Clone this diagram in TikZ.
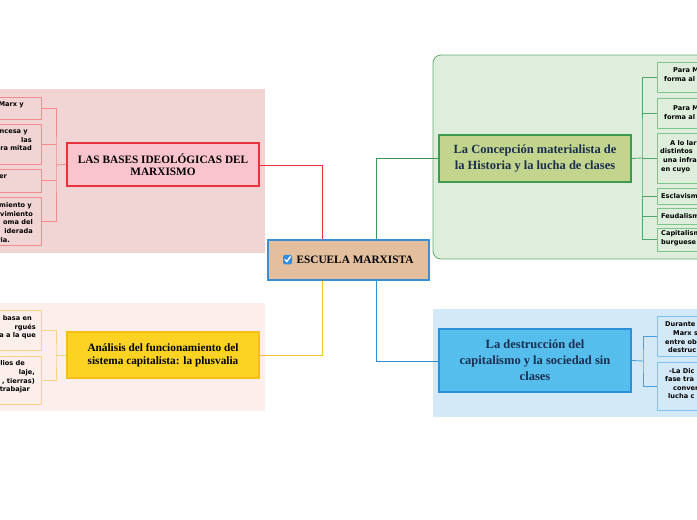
\documentclass[tikz,border=0pt]{standalone}
\usepackage{fontspec}
\setmainfont{Liberation Serif}
\newfontfamily\subf{DejaVu Sans}
\definecolor{cfill}{HTML}{E3BF9E}
\definecolor{cborder}{HTML}{3C8FD4}
\definecolor{rreg}{HTML}{F1D4D4}
\definecolor{rfill}{HTML}{F9C4CE}
\definecolor{rborder}{HTML}{E8323C}
\definecolor{rsub}{HTML}{F08C8C}
\definecolor{yreg}{HTML}{FCEFEB}
\definecolor{yfill}{HTML}{FCD323}
\definecolor{yborder}{HTML}{F8BD16}
\definecolor{ysub}{HTML}{F9D482}
\definecolor{ycon}{HTML}{F8C030}
\definecolor{greg}{HTML}{DEEDDC}
\definecolor{gregb}{HTML}{5FB070}
\definecolor{gfill}{HTML}{C3D48C}
\definecolor{gborder}{HTML}{3E9A4C}
\definecolor{gsub}{HTML}{7CC68C}
\definecolor{gcon}{HTML}{3A9A5A}
\definecolor{breg}{HTML}{D3E9F7}
\definecolor{bfill}{HTML}{56BEEC}
\definecolor{bborder}{HTML}{2D90D6}
\definecolor{bsub}{HTML}{7CC4EE}
\definecolor{navy}{HTML}{1A2E50}
\definecolor{checkblue}{HTML}{2F8FE0}
\tikzset{
  mainbox/.style={draw, line width=2pt, inner sep=0pt, align=center, font=\bfseries\fontsize{11.3}{12.5}\selectfont},
  subbox/.style={draw, line width=0.8pt},
  subtext/.style={inner sep=0pt, font=\subf\bfseries\fontsize{6.6}{8.6}\selectfont},
  conn/.style={line width=1pt},
}
\begin{document}
\begin{tikzpicture}[x=1pt,y=-1pt]
\useasboundingbox (0,0) rectangle (697,520);
\clip (0,0) rectangle (697,520);
\fill[white] (0,0) rectangle (697,520);
% regions
\fill[rreg] (-10,89) rectangle (265,253);
\fill[yreg] (-10,303) rectangle (265,411);
\draw[gregb, fill=greg, line width=0.8pt, rounded corners=8pt] (433,55) rectangle (720,259);
\fill[breg] (433,309) rectangle (720,417);

% main connectors (drawn below nodes)
\coordinate (rt) at (322,240);
\coordinate (gt) at (376,240);
\coordinate (yb) at (322,280);
\coordinate (bb) at (376,280);
\coordinate (rend) at (259,165);
\coordinate (yend) at (259,355);
\coordinate (gend) at (439,158);
\coordinate (bend) at (439,361);
\draw[conn, rborder] (rt) |- (rend);
\draw[conn, ycon] (yb) |- (yend);
\draw[conn, gcon] (gt) |- (gend);
\draw[conn, bborder] (bb) |- (bend);

% central node
\node[mainbox, draw=cborder, fill=cfill, minimum width=161pt, minimum height=40pt, font=\bfseries\fontsize{11.3}{12}\selectfont] (c) at (348.5,260) {\hspace*{13pt}ESCUELA MARXISTA};
\node[fill=checkblue, rounded corners=1.5pt, minimum width=9pt, minimum height=9.5pt, inner sep=0pt] (icon) at (287.5,259.5) {};
\draw[white, line width=1.4pt, line cap=round, line join=round] ([shift={(-2.5pt,0pt)}]icon.center) -- ([shift={(-0.6pt,-2.2pt)}]icon.center) -- ([shift={(2.8pt,2.8pt)}]icon.center);

% main nodes
\node[mainbox, draw=rborder, fill=rfill, minimum width=192pt, minimum height=43pt] (r) at (163,164.5) {LAS BASES IDEOLÓGICAS DEL\\MARXISMO};
\node[mainbox, draw=yborder, fill=yfill, minimum width=192pt, minimum height=46pt] (y) at (163,355) {Análisis del funcionamiento del\\sistema capitalista: la plusvalia};
\node[mainbox, draw=gborder, fill=gfill, minimum width=192pt, minimum height=47pt, text=navy, font=\bfseries\fontsize{12.5}{16}\selectfont] (g) at (535,158.5) {La Concepción materialista de\\la Historia y la lucha de clases};
\node[mainbox, draw=bborder, fill=bfill, minimum width=192pt, minimum height=63pt, text=navy, font=\bfseries\fontsize{12.5}{16}\selectfont] (b) at (535,360.5) {La destrucción del\\capitalismo y la sociedad sin\\clases};

% left top sub boxes
\begin{scope}[rsub]
\node[subbox, fill=rreg, minimum width=60pt, minimum height=22pt, inner sep=0pt] (r1) at (11,108) {};
\node[subbox, fill=rreg, minimum width=60pt, minimum height=40pt, inner sep=0pt] (r2) at (11,144) {};
\node[subbox, fill=rreg, minimum width=60pt, minimum height=23pt, inner sep=0pt] (r3) at (11,180.5) {};
\node[subbox, fill=rreg, minimum width=60pt, minimum height=48pt, inner sep=0pt] (r4) at (11,221) {};
\coordinate (rk) at (56,165);
\draw[line width=0.8pt] (r.west) -- (rk);
\draw[line width=0.8pt] (r1.east) -| (rk) |- (r4.east);
\draw[line width=0.8pt] (r2.east) -- (r2.east -| rk);
\draw[line width=0.8pt] (r3.east) -- (r3.east -| rk);
\end{scope}
\node[subtext, anchor=east] (r1t) at (24,105) {Marx y};
\node[subtext, anchor=east, align=right] (r2t) at (32,140.5) {ncesa y\hspace*{4pt}\\las\hspace*{14pt}\\ra mitad};
\node[subtext, anchor=east] (r3t) at (7,177) {er};
\node[subtext, anchor=east, align=right] (r4t) at (33,222.5) {miento y\hspace*{1pt}\\vimiento\\oma del\hspace*{3pt}\\iderada\hspace*{4pt}\\ria.\hspace*{23pt}};

% left bottom sub boxes
\begin{scope}[ysub]
\node[subbox, fill=yreg, minimum width=60pt, minimum height=40pt, inner sep=0pt] (y1) at (11,330) {};
\node[subbox, fill=yreg, minimum width=60pt, minimum height=48pt, inner sep=0pt] (y2) at (11,380) {};
\coordinate (yk) at (56,355);
\draw[line width=0.8pt] (y.west) -- (yk);
\draw[line width=0.8pt] (y1.east) -| (yk) |- (y2.east);
\end{scope}
\node[subtext, anchor=east, align=right] (y1t) at (36,327.5) {basa en\hspace*{4pt}\\rgués\hspace*{14pt}\\a a la que};
\node[subtext, anchor=east, align=right] (y2t) at (35,377) {lios de\hspace*{10pt}\\laje,\hspace*{21pt}\\, tierras)\\trabajar\hspace*{5pt}};

% right top sub boxes
\begin{scope}[gsub]
\node[subbox, fill=greg, minimum width=60pt, minimum height=30pt, inner sep=0pt] (g1) at (687,77) {};
\node[subbox, fill=greg, minimum width=60pt, minimum height=30pt, inner sep=0pt] (g2) at (687,113) {};
\node[subbox, fill=greg, minimum width=60pt, minimum height=50pt, inner sep=0pt] (g3) at (687,158) {};
\node[subbox, fill=greg, minimum width=60pt, minimum height=16pt, inner sep=0pt] (g4) at (687,196) {};
\node[subbox, fill=greg, minimum width=60pt, minimum height=16pt, inner sep=0pt] (g5) at (687,216) {};
\node[subbox, fill=greg, minimum width=60pt, minimum height=23pt, inner sep=0pt] (g6) at (687,239.5) {};
\end{scope}
\begin{scope}[gcon!70!gsub]
\coordinate (gk) at (642,158);
\draw[line width=0.8pt] (g.east) -- (gk);
\draw[line width=0.8pt] (g1.west) -| (gk) |- (g6.west);
\draw[line width=0.8pt] (g2.west) -- (g2.west -| gk);
\draw[line width=0.8pt] (g3.west) -- (g3.west -| gk);
\draw[line width=0.8pt] (g4.west) -- (g4.west -| gk);
\draw[line width=0.8pt] (g5.west) -- (g5.west -| gk);
\end{scope}
\node[subtext, anchor=west, align=left] (g1t) at (664,74.5) {\hspace*{9pt}Para M\\forma al};
\node[subtext, anchor=west, align=left] (g2t) at (664,112.5) {\hspace*{9pt}Para M\\forma al};
\node[subtext, anchor=west, align=left] (g3t) at (659,156.5) {\hspace*{11pt}A lo lar\\\hspace*{1pt}distintos\\\hspace*{4pt}una infra\\\hspace*{2pt}en cuyo};
\node[subtext, anchor=west] (g4t) at (661,196) {Esclavism};
\node[subtext, anchor=west] (g5t) at (661,216) {Feudalism};
\node[subtext, anchor=west, align=left] (g6t) at (661,238.5) {Capitalism\\burguese};

% right bottom sub boxes
\begin{scope}[bsub]
\node[subbox, fill=breg, minimum width=60pt, minimum height=40pt, inner sep=0pt] (b1) at (687,336) {};
\node[subbox, fill=breg, minimum width=60pt, minimum height=48pt, inner sep=0pt] (b2) at (687,386) {};
\end{scope}
\begin{scope}[bborder!70!bsub]
\coordinate (bk) at (643,361);
\draw[line width=0.8pt] (b.east) -- (bk);
\draw[line width=0.8pt] (b1.west) -| (bk) |- (b2.west);
\end{scope}
\node[subtext, anchor=west, align=left] (b1t) at (665,337.5) {Durante\\\hspace*{8pt}Marx s\\entre ob\\\hspace*{3pt}destruc};
\node[subtext, anchor=west, align=left] (b2t) at (665,383.5) {\hspace*{4pt}-La Dic\\fase tra\\\hspace*{8pt}conver\\\hspace*{3pt}lucha c};
\end{tikzpicture}
\end{document}
